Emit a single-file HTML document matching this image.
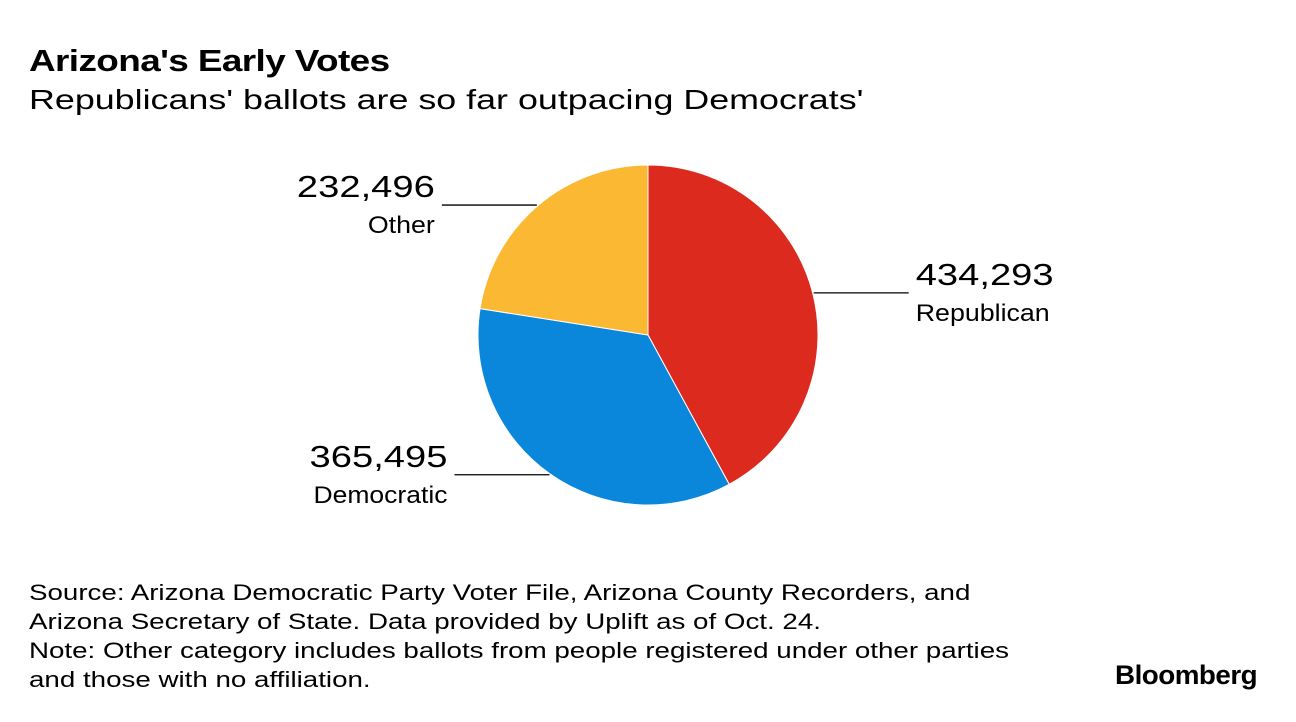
<!DOCTYPE html>
<html><head><meta charset="utf-8"><style>
body{margin:0;width:1296px;height:722px;background:#fff;font-family:"Liberation Sans",sans-serif;color:#000;overflow:hidden;position:relative}
.t{position:absolute;white-space:nowrap;transform-origin:0 0}
</style></head><body>
<div class="t" style="left:29px;top:43px;font-size:31px;font-weight:bold;letter-spacing:-0.5px;transform:scaleX(1.19)">Arizona's Early Votes</div>
<div class="t" style="left:29px;top:84px;font-size:28px;transform:scaleX(1.28)">Republicans' ballots are so far outpacing Democrats'</div>
<svg id="chart" width="1296" height="722" style="position:absolute;left:0;top:0"></svg>
<div class="t" style="left:29px;top:578px;font-size:22px;line-height:29px;transform:scaleX(1.26)">Source: Arizona Democratic Party Voter File, Arizona County Recorders, and<br>Arizona Secretary of State. Data provided by Uplift as of Oct. 24.<br>Note: Other category includes ballots from people registered under other parties<br>and those with no affiliation.</div>
<div class="t" style="left:1115px;top:660px;font-size:27px;font-weight:bold;letter-spacing:-0.5px;transform:scaleX(1.03)">Bloomberg</div>
<script>
const categories=["Republican","Democratic","Other"];
const values=[434293,365495,232496];
const labels=["434,293","365,495","232,496"];
const colors=["#dc2a1f","#0a86da","#fbb832"];
const svg=document.getElementById('chart');
const NS="http://www.w3.org/2000/svg";
const cx=648,cy=335,r=170;
const total=values.reduce((a,b)=>a+b,0);
function pt(a,rr){return [cx+rr*Math.sin(a),cy-rr*Math.cos(a)];}
let a0=0;
values.forEach((v,i)=>{
  const a1=a0+v/total*2*Math.PI;
  const p0=pt(a0,r),p1=pt(a1,r);
  const large=(a1-a0)>Math.PI?1:0;
  const path=document.createElementNS(NS,'path');
  path.setAttribute('d',`M${cx},${cy}L${p0[0]},${p0[1]}A${r},${r} 0 ${large} 1 ${p1[0]},${p1[1]}Z`);
  path.setAttribute('fill',colors[i]);
  path.setAttribute('stroke','#fff');
  path.setAttribute('stroke-width','1');
  
  
  svg.appendChild(path);
  const mid=(a0+a1)/2;
  const pm=pt(mid,r+1);
  const right=Math.sin(mid)>=0;
  const x2=right?pm[0]+95:pm[0]-95;
  const line=document.createElementNS(NS,'line');
  line.setAttribute('x1',pm[0]);line.setAttribute('y1',pm[1]);
  line.setAttribute('x2',x2);line.setAttribute('y2',pm[1]);
  line.setAttribute('stroke','#000');line.setAttribute('stroke-width','1.3');
  
  
  svg.appendChild(line);
  const tx=right?x2+7:x2-7;
  const anchor=right?'start':'end';
  const t1=document.createElementNS(NS,'text');
  t1.setAttribute('x',tx);t1.setAttribute('y',pm[1]-8);
  t1.setAttribute('text-anchor',anchor);t1.setAttribute('font-size','31');
  t1.setAttribute('font-family','Liberation Sans, sans-serif');
  t1.setAttribute('textLength',labels[i].length*19.7);
  t1.setAttribute('lengthAdjust','spacingAndGlyphs');
  t1.textContent=labels[i];
  
  
  svg.appendChild(t1);
  const t2=document.createElementNS(NS,'text');
  t2.setAttribute('x',tx);t2.setAttribute('y',pm[1]+28);
  t2.setAttribute('text-anchor',anchor);t2.setAttribute('font-size','24');
  t2.setAttribute('font-family','Liberation Sans, sans-serif');
  t2.setAttribute('textLength',categories[i].length*13.4);
  t2.setAttribute('lengthAdjust','spacingAndGlyphs');
  t2.textContent=categories[i];
  
  
  svg.appendChild(t2);
  a0=a1;
});
</script>
</body></html>
